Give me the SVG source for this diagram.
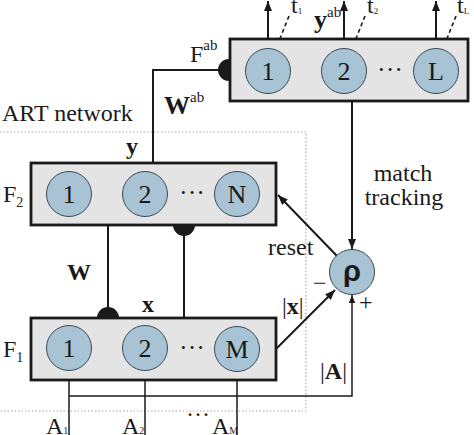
<svg xmlns="http://www.w3.org/2000/svg" width="474" height="435" viewBox="0 0 474 435">
<defs>
<style>
.box{fill:#e4e4e4;stroke:#1a1a1a;stroke-width:2.8}
.cell{fill:#a8c4d4;stroke:#3a4a55;stroke-width:1}
.num{font-family:"Liberation Serif",serif;font-size:26px;fill:#1a1a1a;text-anchor:middle}
.t{font-family:"Liberation Serif",serif;font-size:24px;fill:#1a1a1a}
.b{font-weight:bold}
.ln{fill:none;stroke:#1a1a1a;stroke-width:2}
.thin{fill:none;stroke:#1a1a1a;stroke-width:1.5}
.dash{fill:none;stroke:#1a1a1a;stroke-width:1.6;stroke-dasharray:4 3}
.dot{fill:none;stroke:#aaaaaa;stroke-width:1.2;stroke-dasharray:1.5 2}
.knob{fill:#1a1a1a}
</style>
<marker id="ah" viewBox="0 0 10 8" refX="10" refY="4" markerWidth="10" markerHeight="8" markerUnits="userSpaceOnUse" orient="auto"><path d="M0,0 L10,4 L0,8 Z" fill="#1a1a1a"/></marker>
<marker id="ahs" viewBox="0 0 10 8" refX="10" refY="4" markerWidth="8" markerHeight="7" markerUnits="userSpaceOnUse" orient="auto"><path d="M0,0 L10,4 L0,8 Z" fill="#1a1a1a"/></marker>
</defs>
<rect width="474" height="435" fill="#ffffff"/>
<path class="dot" d="M0,132 H306 V411 H0"/>
<text class="t" x="2" y="121">ART network</text>

<g id="connectors">
<path class="ln" d="M229,70 H153 V163"/>
<path class="knob" d="M229,59 A11,11 0 0 0 229,81 Z"/>
<path class="ln" d="M108,225 V318"/>
<path class="knob" d="M97,318 A11,11 0 0 1 119,318 Z"/>
<path class="ln" d="M184,225 V318"/>
<path class="knob" d="M173,225 A11,11 0 0 0 195,225 Z"/>
<path class="ln" d="M352,101 V249" marker-end="url(#ah)"/>
<path class="ln" d="M337,256 L278,195" marker-end="url(#ah)"/>
<path class="ln" d="M276,349 L335,290" marker-end="url(#ah)"/>
<path class="thin" d="M69,396 H352 V295" marker-end="url(#ahs)"/>
<path class="thin" d="M69,435 V371" marker-end="url(#ahs)"/>
<path class="thin" d="M145,435 V371" marker-end="url(#ahs)"/>
<path class="thin" d="M237,435 V371" marker-end="url(#ahs)"/>
<path class="ln" d="M268,48 V1" marker-end="url(#ah)"/>
<path class="ln" d="M344,48 V1" marker-end="url(#ah)"/>
<path class="ln" d="M436,48 V1" marker-end="url(#ah)"/>
<path class="dash" d="M289,16 L277,46" marker-end="url(#ahs)"/>
<path class="dash" d="M365,16 L353,46" marker-end="url(#ahs)"/>
<path class="dash" d="M456,16 L444,46" marker-end="url(#ahs)"/>
</g>

<g id="Fab">
<rect class="box" x="230" y="39" width="238" height="62"/>
<circle class="cell" cx="268" cy="71" r="22.5"/>
<circle class="cell" cx="344" cy="71" r="22.5"/>
<circle class="cell" cx="436" cy="71" r="22.5"/>
<text class="num" x="268" y="80">1</text>
<text class="num" x="344" y="80">2</text>
<text class="num" x="436" y="80">L</text>
<text class="num" x="390" y="78">···</text>
</g>

<g id="F2">
<rect class="box" x="31" y="163" width="245" height="62"/>
<circle class="cell" cx="69" cy="194" r="22.5"/>
<circle class="cell" cx="145" cy="194" r="22.5"/>
<circle class="cell" cx="237" cy="194" r="22.5"/>
<text class="num" x="69" y="203">1</text>
<text class="num" x="145" y="203">2</text>
<text class="num" x="237" y="203">N</text>
<text class="num" x="192" y="201">···</text>
</g>

<g id="F1">
<rect class="box" x="31" y="318" width="245" height="62"/>
<circle class="cell" cx="69" cy="348" r="22.5"/>
<circle class="cell" cx="145" cy="348" r="22.5"/>
<circle class="cell" cx="237" cy="349" r="22.5"/>
<text class="num" x="69" y="357">1</text>
<text class="num" x="145" y="357">2</text>
<text class="num" x="237" y="358">M</text>
<text class="num" x="192" y="356">···</text>
</g>

<g id="rho">
<circle class="cell" cx="352" cy="272" r="22.5"/>
<text x="352" y="281" font-family="'Liberation Sans',sans-serif" font-size="29" font-weight="bold" fill="#1a1a1a" text-anchor="middle">ρ</text>
</g>

<g id="labels">
<text class="t" x="190" y="62" font-size="26">F<tspan font-size="15" dy="-12">ab</tspan></text>
<text class="t" x="164" y="114"><tspan class="b" font-size="26">W</tspan><tspan font-size="15" dy="-12">ab</tspan></text>
<text class="t b" x="126" y="154">y</text>
<text class="t" x="3" y="202" font-size="26">F<tspan font-size="14" dy="5">2</tspan></text>
<text class="t" x="3" y="357" font-size="26">F<tspan font-size="14" dy="5">1</tspan></text>
<text class="t b" x="67" y="280">W</text>
<text class="t b" x="142" y="312">x</text>
<text class="t" x="268" y="255">reset</text>
<text class="t" x="403" y="181" text-anchor="middle">match</text>
<text class="t" x="404" y="205" text-anchor="middle">tracking</text>
<text class="t" x="313" y="291">−</text>
<text class="t" x="359" y="310" font-size="18" fill="#9c9c74">+</text>
<text class="t" x="282" y="314">|<tspan class="b">x</tspan>|</text>
<text class="t" x="320" y="379">|<tspan class="b">A</tspan>|</text>
<text class="t" x="314" y="28"><tspan class="b" font-size="26">y</tspan><tspan font-size="15" dy="-11">ab</tspan></text>
<text class="t" x="291" y="13" font-size="14">t<tspan font-size="9" dy="1">1</tspan></text>
<text class="t" x="367" y="13" font-size="14">t<tspan font-size="9" dy="1">2</tspan></text>
<text class="t" x="457" y="13" font-size="14">t<tspan font-size="9" dy="1">L</tspan></text>
<text class="t" x="46" y="434" font-size="20">A<tspan font-size="10">1</tspan></text>
<text class="t" x="122" y="434" font-size="20">A<tspan font-size="10">2</tspan></text>
<text class="t" x="212" y="434" font-size="20">A<tspan font-size="10">M</tspan></text>
<text class="t" x="186" y="422" font-size="20">···</text>
</g>
</svg>
